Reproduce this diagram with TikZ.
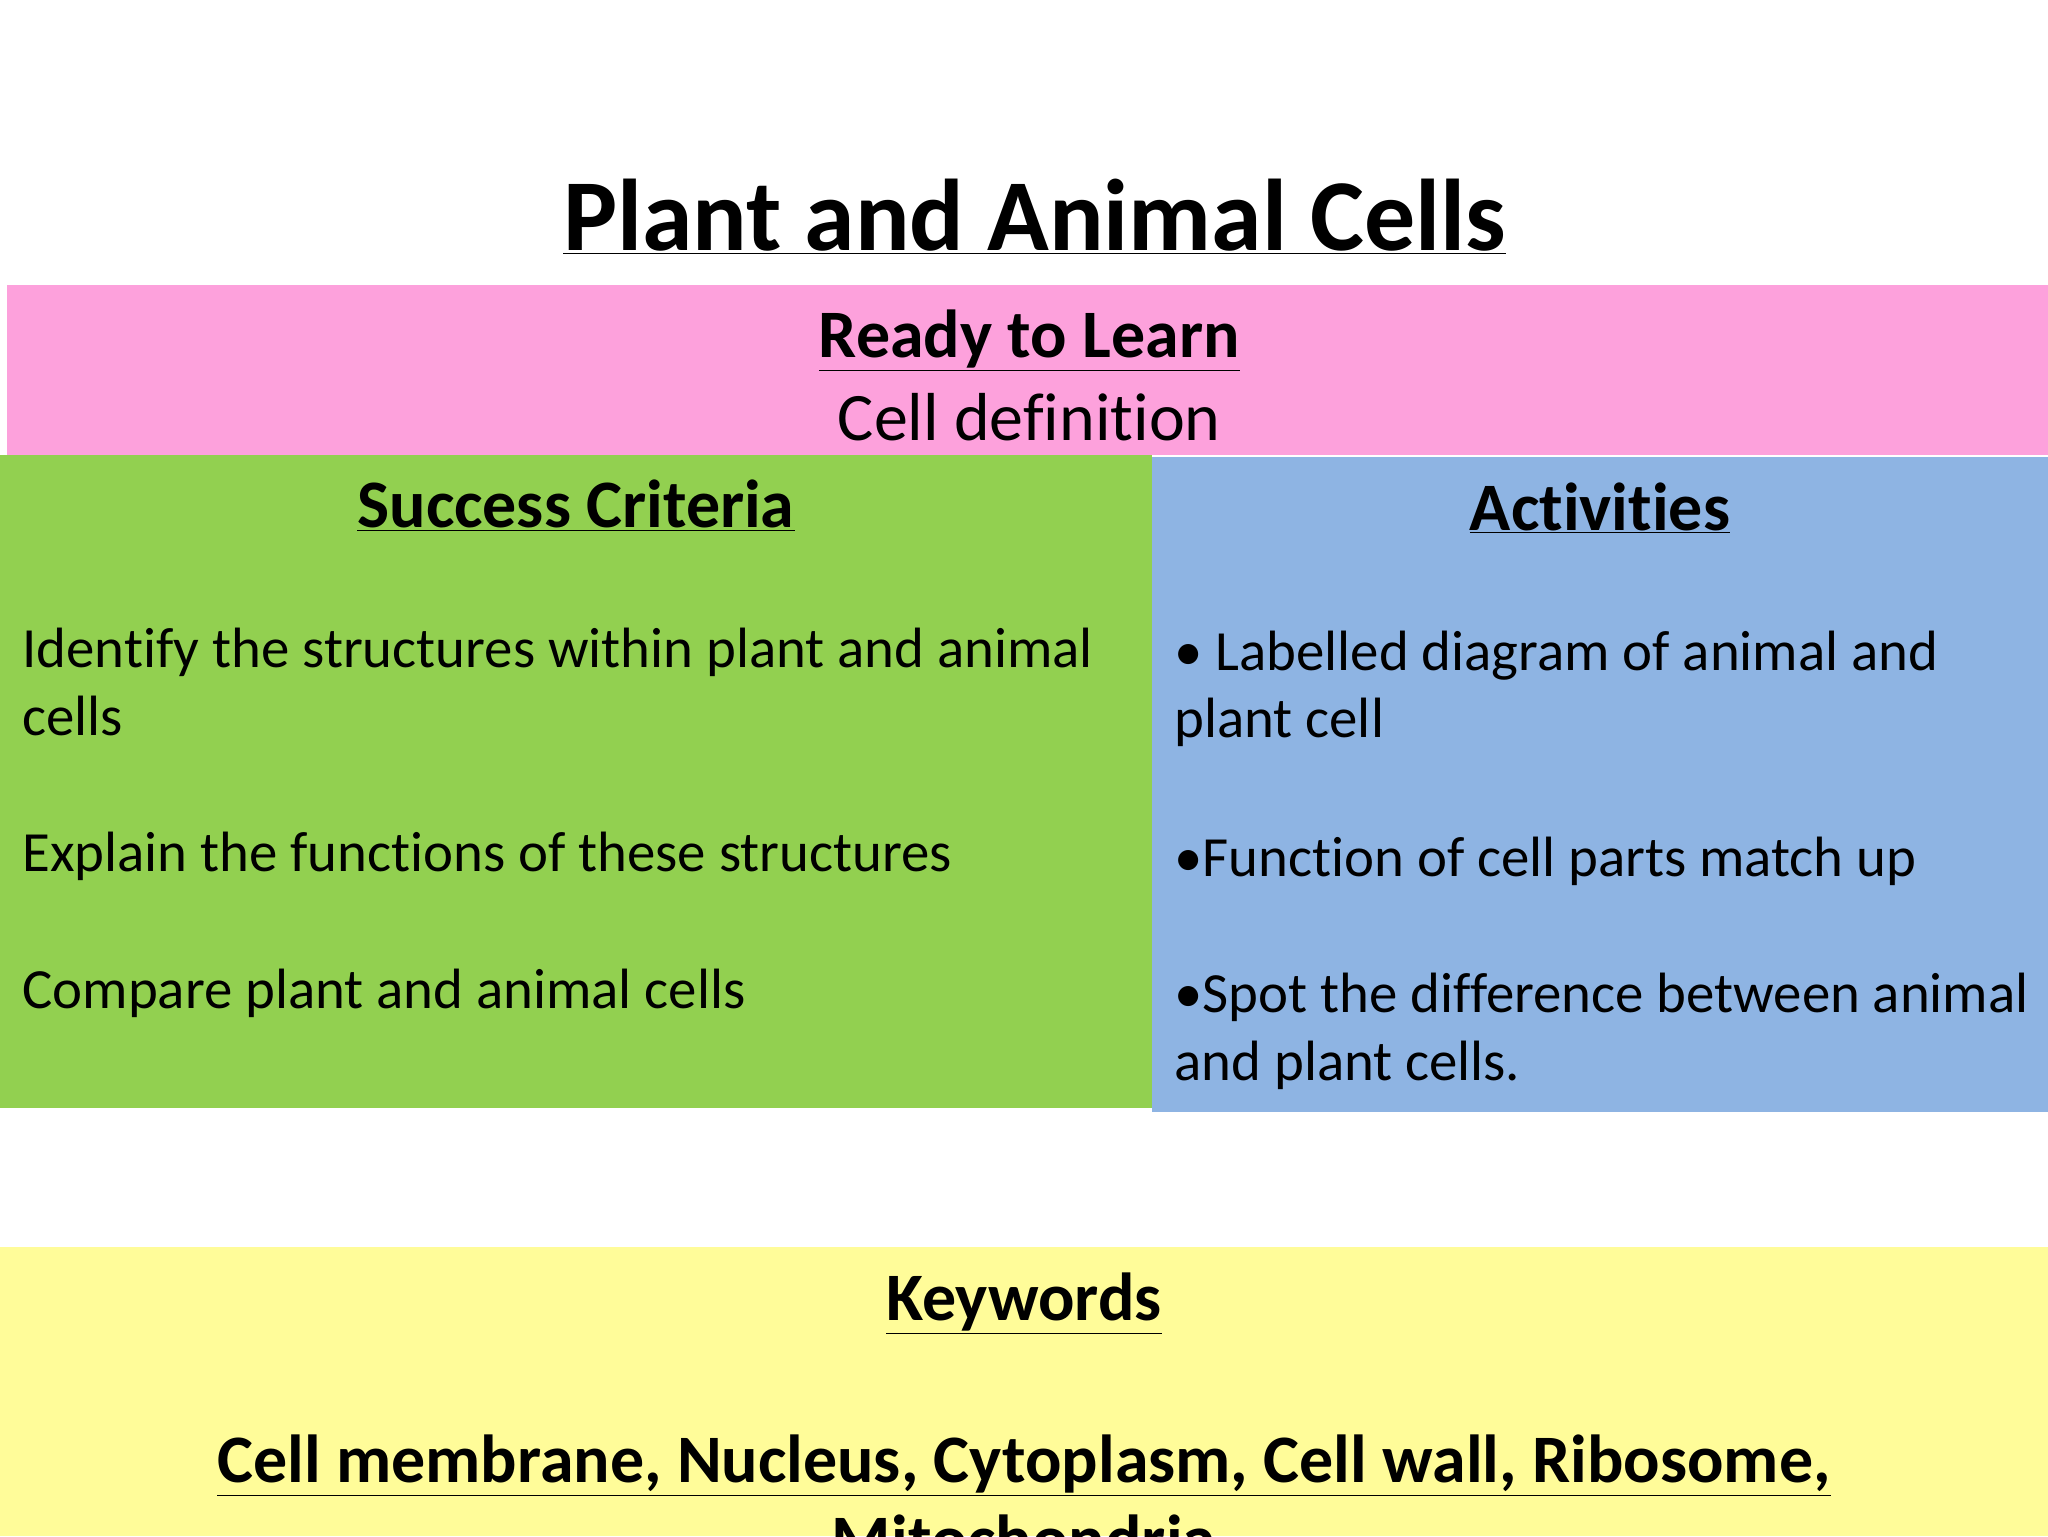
\documentclass[tikz,border=0pt]{standalone}
\usepackage{fontspec}
\setmainfont[Ligatures={NoCommon}]{Carlito}
\begin{document}
\begin{tikzpicture}[x=1pt,y=-1pt,
  body/.style={anchor=base west,inner sep=0pt,font=\fontsize{43.5}{52}\selectfont,align=left},
  head/.style={anchor=base,inner sep=0pt,font=\fontsize{52}{60}\selectfont\bfseries}]
\useasboundingbox (0,0) rectangle (1568,1176);
\clip (0,0) rectangle (1568,1176);
\fill[white] (0,0) rectangle (1568,1176);
\fill[fill={rgb,255:red,253;green,161;blue,220}] (5,218) rectangle (1568,348);
\fill[fill={rgb,255:red,146;green,208;blue,80}] (0,348) rectangle (882,848);
\fill[fill={rgb,255:red,142;green,180;blue,227}] (882,350) rectangle (1568,851);
\fill[fill={rgb,255:red,255;green,252;blue,153}] (0,955) rectangle (1568,1176);
\node[head,font=\fontsize{78}{90}\selectfont\bfseries] (title) at (792,192) {\underline{Plant and Animal Cells}};
\node[head] (rtl) at (788,274) {\underline{Ready to Learn}};
\node[anchor=base,inner sep=0pt,font=\fontsize{52}{60}\selectfont] (cd) at (788,337) {Cell definition};
\node[head] (sc) at (441,404) {\underline{Success Criteria}};
\node[head] (act) at (1225,406) {\underline{Activities}};
\node[body] (s1) at (17,563) {Identify the structures within plant and animal\\cells};
\node[body] (s2) at (17,667) {Explain the functions of these structures};
\node[body] (s3) at (17,772) {Compare plant and animal cells};
\node[body] (a1) at (899,565) {\textbullet\ Labelled diagram of animal and\\plant cell};
\node[body] (a2) at (899,671) {\textbullet Function of cell parts match up};
\node[body] (a3) at (899,827) {\textbullet Spot the difference between animal\\and plant cells.};
\node[head] (kw) at (784,1011) {\underline{Keywords}};
\node[head] (kl) at (784,1135) {\underline{Cell membrane, Nucleus, Cytoplasm, Cell wall, Ribosome,}};
\node[head] (kl2) at (784,1196) {\underline{Mitochondria}};
\end{tikzpicture}
\end{document}
